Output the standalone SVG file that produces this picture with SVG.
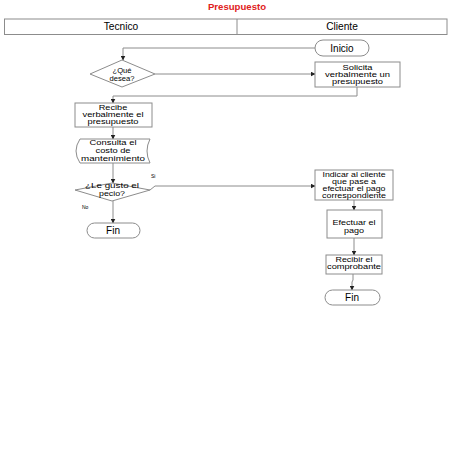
<svg xmlns="http://www.w3.org/2000/svg" width="453" height="453" viewBox="0 0 453 453">
<defs>
<marker id="ah" markerWidth="5" markerHeight="5" refX="4.5" refY="2.5" orient="auto" markerUnits="userSpaceOnUse">
<path d="M0,0 L5,2.5 L0,5 Z" fill="#222"/>
</marker>
<style>
.shape{fill:#fff;stroke:#8c8c8c;stroke-width:1}
.conn{fill:none;stroke:#8c8c8c;stroke-width:1;marker-end:url(#ah)}
text{font-family:"Liberation Sans",Arial,sans-serif;font-size:7px;fill:#000;text-anchor:middle}
.hdr{font-size:10.2px}
.term{font-size:10px}
.c8{font-size:7.8px}
.lbl{font-size:5px;text-anchor:start}
</style>
</defs>
<rect width="453" height="453" fill="#fff"/>
<text x="237" y="9.5" style="fill:#e02020;font-size:9.6px;font-weight:bold">Presupuesto</text>
<g id="header">
<rect class="shape" x="4.5" y="19" width="442.5" height="15.5"/>
<line x1="237" y1="19" x2="237" y2="34.5" stroke="#8c8c8c"/>
<text class="hdr" x="121" y="30.3">Tecnico</text>
<text class="hdr" x="342" y="30.3">Cliente</text>
</g>
<g id="connectors">
<polyline class="conn" points="315,48 123,48 123,60"/>
<polyline class="conn" points="155,74 315,74"/>
<polyline class="conn" points="357,87 357,96 113,96 113,103"/>
<polyline class="conn" points="113,127 113,139"/>
<polyline class="conn" points="113,163 113,183"/>
<polyline class="conn" points="150,190 155,186 315,186"/>
<polyline class="conn" points="113,201 113,223"/>
<polyline class="conn" points="354,200 354,210"/>
<polyline class="conn" points="354,238 354,255"/>
<polyline class="conn" points="353,274 353,280 352,282 352,290"/>
</g>
<g id="inicio">
<rect class="shape" x="315" y="40" width="54" height="16" rx="8"/>
<text class="term" x="342" y="51.8">Inicio</text>
</g>
<g id="que_desea">
<polygon class="shape" points="122,60 155,74 122,87 90,74"/>
<text class="c8" x="122" y="72.5" textLength="19" lengthAdjust="spacingAndGlyphs">¿Qué</text>
<text class="c8" x="122" y="80.5" textLength="25" lengthAdjust="spacingAndGlyphs">desea?</text>
</g>
<g id="solicita">
<rect class="shape" x="315" y="62" width="85" height="25"/>
<text x="357.5" y="69.5" textLength="30" lengthAdjust="spacingAndGlyphs">Solicita</text>
<text x="357.5" y="76.5" textLength="65" lengthAdjust="spacingAndGlyphs">verbalmente un</text>
<text x="357.5" y="83.5" textLength="51" lengthAdjust="spacingAndGlyphs">presupuesto</text>
</g>
<g id="recibe">
<rect class="shape" x="75" y="103" width="77" height="24"/>
<text x="113" y="109.5" textLength="28.5" lengthAdjust="spacingAndGlyphs">Recibe</text>
<text x="113" y="116.6" textLength="61" lengthAdjust="spacingAndGlyphs">verbalmente el</text>
<text x="113" y="123.7" textLength="51" lengthAdjust="spacingAndGlyphs">presupuesto</text>
</g>
<g id="consulta">
<path class="shape" d="M80,139 L150,139 Q144,151 150,163 L80,163 Q72,151 80,139 Z"/>
<text class="c8" x="113" y="144.6" textLength="47" lengthAdjust="spacingAndGlyphs">Consulta el</text>
<text class="c8" x="113" y="152.6" textLength="35" lengthAdjust="spacingAndGlyphs">costo de</text>
<text class="c8" x="113" y="160.6" textLength="64" lengthAdjust="spacingAndGlyphs">mantenimiento</text>
</g>
<g id="le_gusto">
<polygon class="shape" points="112,183 150,190 112,201 75,190"/>
<text x="112" y="188.3" textLength="54" lengthAdjust="spacingAndGlyphs">¿Le gusto el</text>
<text x="112" y="195.5" textLength="26" lengthAdjust="spacingAndGlyphs">pecio?</text>
</g>
<text class="lbl" x="151" y="178">Si</text>
<text class="lbl" x="82" y="209">No</text>
<g id="fin1">
<rect class="shape" x="87" y="223" width="53" height="15" rx="7.5"/>
<text class="term" x="113" y="234">Fin</text>
</g>
<g id="indicar">
<rect class="shape" x="315" y="170" width="78" height="30"/>
<text x="354" y="177" textLength="63" lengthAdjust="spacingAndGlyphs">Indicar al cliente</text>
<text x="354" y="184" textLength="44" lengthAdjust="spacingAndGlyphs">que pase a</text>
<text x="354" y="191" textLength="63" lengthAdjust="spacingAndGlyphs">efectuar el pago</text>
<text x="354" y="198" textLength="64" lengthAdjust="spacingAndGlyphs">correspondiente</text>
</g>
<g id="efectuar">
<rect class="shape" x="327" y="210" width="55" height="28"/>
<text x="354" y="225" textLength="43" lengthAdjust="spacingAndGlyphs">Efectuar el</text>
<text x="354" y="232.5" textLength="20" lengthAdjust="spacingAndGlyphs">pago</text>
</g>
<g id="recibir">
<rect class="shape" x="326" y="255" width="56" height="19"/>
<text x="354" y="262" textLength="37" lengthAdjust="spacingAndGlyphs">Recibir el</text>
<text x="354" y="269.2" textLength="54" lengthAdjust="spacingAndGlyphs">comprobante</text>
</g>
<g id="fin2">
<rect class="shape" x="325" y="290" width="55" height="15" rx="7.5"/>
<text class="term" x="352" y="301">Fin</text>
</g>
</svg>
